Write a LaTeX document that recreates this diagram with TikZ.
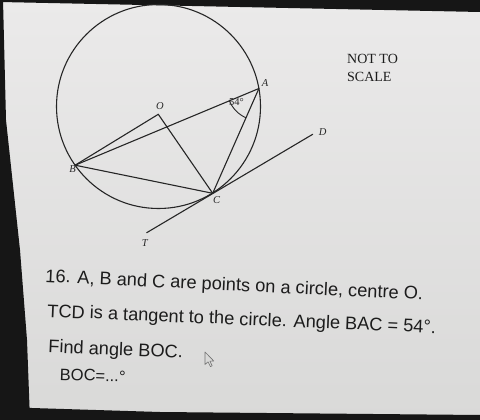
\documentclass[tikz,border=0pt]{standalone}
\usepackage{fontspec}
\setmainfont{Liberation Sans}
\newfontfamily\timesfont{Liberation Serif}
\usetikzlibrary{calc}
\definecolor{ink}{HTML}{262626}
\definecolor{txt}{HTML}{1C1C1C}
\definecolor{bgtop}{HTML}{EBEAEA}
\definecolor{bgbot}{HTML}{D9D9D8}
\definecolor{edge}{HTML}{161616}
\begin{document}
\begin{tikzpicture}[x=1pt,y=-1pt,
  geo/.style={line width=1.1pt, draw=ink, line cap=round, line join=round},
  lbl/.style={font=\fontsize{10.5}{12}\timesfont\itshape, text=ink, inner sep=0pt},
  qtext/.style={font=\fontsize{18.2}{22}\selectfont, text=txt, anchor=base west, inner sep=0pt},
  ans/.style={font=\fontsize{16.5}{20}\selectfont, text=txt, anchor=base west, inner sep=0pt, rotate=-2},
  nts/.style={font=\fontsize{14}{16}\timesfont, text=txt, anchor=base west, inner sep=0pt},
]
\useasboundingbox (0,0) rectangle (480,420);
% photo background and dark screen edges
\shade[top color=bgtop, bottom color=bgbot] (0,0) rectangle (480,420);
\fill[edge] (0,0) -- (480,0) -- (480,12) -- (0,2) -- cycle;
\fill[edge] (0,0) -- (3,0) -- (6,120) -- (20,250) -- (27,340) -- (30,420) -- (0,420) -- cycle;
\fill[edge] (0,407) -- (160,412) -- (480,415) -- (480,420) -- (0,420) -- cycle;

% geometry points
\coordinate (ctr) at (158.5,106.5);
\coordinate (O) at (158.3,114.3);
\coordinate (A) at (258.9,88.5);
\coordinate (B) at (75.1,165.2);
\coordinate (C) at (212.7,193.3);
\coordinate (D) at (312.7,134.3);
\coordinate (T) at (146.7,232.7);

\draw[geo] (ctr) circle[radius=102];
\draw[geo] (O) -- (B);
\draw[geo] (O) -- (C);
\draw[geo] (A) -- (B);
\draw[geo] (A) -- (C);
\draw[geo] (B) -- (C);
\draw[geo] (T) -- (D);
\draw[geo, line width=0.9pt] ($(A)+(113.8:32)$) arc[start angle=113.8, end angle=157.35, radius=32];

% labels
\node[lbl] (lA) at (265,83.5) {A};
\node[lbl] (lO) at (160,106) {O};
\node[lbl] (lB) at (72.7,169) {B};
\node[lbl] (lC) at (216.7,200) {C};
\node[lbl] (lD) at (322.7,132.3) {D};
\node[lbl] (lT) at (144.7,242.7) {T};
\node[lbl, font=\fontsize{10.5}{12}\timesfont] (ang) at (236.5,102.5) {54°};

\node[nts] (n1) at (347,64) {NOT TO};
\node[nts] (n2) at (347,82) {SCALE};

% question text
\node[qtext, rotate=-2.7] (l1) at (45,282) {16. A, B and C are points on a circle, centre O.};
\node[qtext, rotate=-2.4] (l2) at (47,317) {TCD is a tangent to the circle. Angle BAC = 54°.};
\node[qtext, rotate=-2.4] (l3) at (48,352.5) {Find angle BOC.};
\node[ans] (l4) at (59.5,380) {BOC=...°};

% mouse pointer
\draw[draw=black!55, line width=0.6pt, fill=bgbot, line join=round]
  (205,352) -- (205,364.5) -- (208,361.8) -- (210.4,366.6) -- (212.2,365.8) -- (209.9,361.1) -- (213.8,361) -- cycle;
\end{tikzpicture}
\end{document}
